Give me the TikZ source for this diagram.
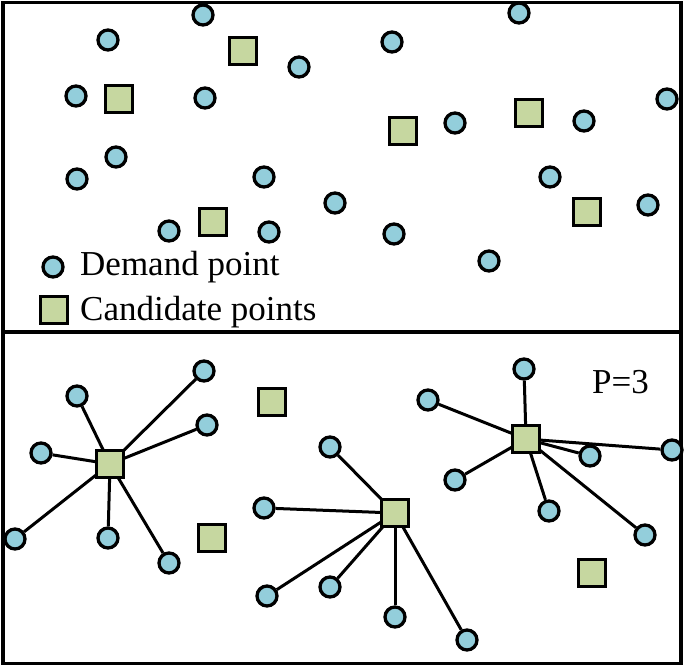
\documentclass[tikz,border=0pt]{standalone}
\usepackage{fontspec}
\setmainfont{Liberation Serif}
\definecolor{dcol}{HTML}{93CEDB}
\definecolor{ccol}{HTML}{C6D7A0}
\begin{document}
\begin{tikzpicture}[x=1pt,y=-1pt,
  dem/.style={circle,draw=black,line width=3.3pt,fill=dcol,minimum size=20pt,inner sep=0pt},
  cand/.style={rectangle,draw=black,line width=3.3pt,fill=ccol,minimum size=27pt,inner sep=0pt},
  link/.style={line width=3pt,black},
  panel/.style={draw=black,line width=3.6pt},
  lbl/.style={font=\fontsize{35}{40}\selectfont,inner sep=0pt,anchor=base west}]
\useasboundingbox (0,0) rectangle (685,666);
\draw[panel] (3,2.5) rectangle (681,332);
\draw[panel] (3,332) rectangle (681,663.5);
% top panel demand points
\foreach \n/\x/\y in {1/203/15,2/108/40,3/392/42,4/519/13,5/299/67,6/76/96,7/205/98,8/667/99,9/455/123,10/584/121,11/116/157,12/77/179,13/264/177,14/550/177,15/335/203,16/648/205,17/169/231,18/269/232,19/394/234,20/489/261}
  \node[dem] (t\n) at (\x,\y) {};
% top panel candidate points
\foreach \n/\x/\y in {1/243/51,2/119/99,3/403/131,4/529/113,5/213/222,6/587/212}
  \node[cand] (ts\n) at (\x,\y) {};
% legend
\node[dem] (legd) at (53,267) {};
\node[cand] (legc) at (54,310) {};
\node[lbl] (legdt) at (80,275) {Demand point};
\node[lbl] (legct) at (80,320) {Candidate points};
% bottom panel
\node[lbl] (pval) at (592,393) {P=3};
\node[cand] (hA) at (110,464) {};
\node[cand] (hB) at (395,513) {};
\node[cand] (hC) at (526,439) {};
\node[cand] (sq1) at (272,402) {};
\node[cand] (sq2) at (212,538) {};
\node[cand] (sq3) at (592,573) {};
\foreach \n/\x/\y in {1/77/396,2/204/371,3/207/425,4/41/453,5/15/539,6/108/538,7/169/563}
  \node[dem] (a\n) at (\x,\y) {};
\foreach \n/\x/\y in {1/330/447,2/264/508,3/267/596,4/330/587,5/395/617,6/467/640}
  \node[dem] (b\n) at (\x,\y) {};
\foreach \n/\x/\y in {1/524/369,2/428/400,3/672/450,4/590/456,5/455/480,6/549/511,7/645/535}
  \node[dem] (c\n) at (\x,\y) {};
\foreach \n in {1,...,7} \draw[link] (hA.center) -- (a\n);
\foreach \n in {1,...,6} \draw[link] (hB.center) -- (b\n);
\foreach \n in {1,...,7} \draw[link] (hC.center) -- (c\n);
% redraw hubs on top of lines
\node[cand] at (hA) {};
\node[cand] at (hB) {};
\node[cand] at (hC) {};
\end{tikzpicture}
\end{document}
